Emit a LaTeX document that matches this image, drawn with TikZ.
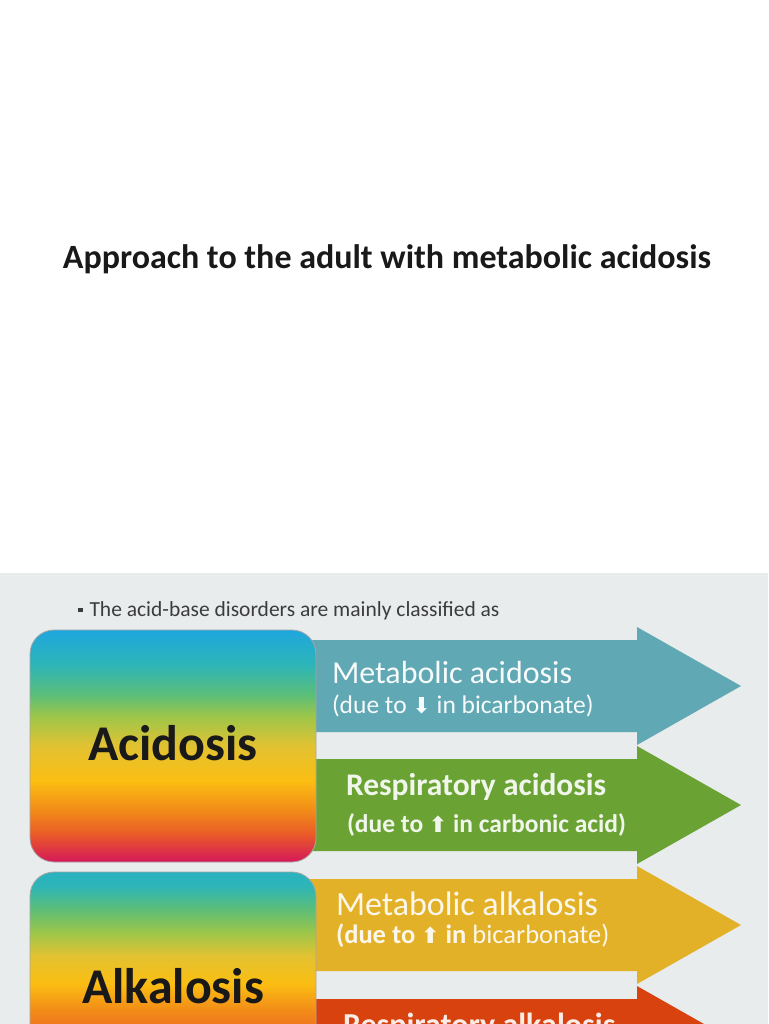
\documentclass[tikz,border=0pt]{standalone}
\usepackage{fontspec}
\setmainfont{Carlito}
\newfontfamily\symfont{DejaVu Sans}

\definecolor{panelgray}{HTML}{E8ECEC}
\definecolor{bullettext}{HTML}{3C3C3C}
\definecolor{arrteal}{HTML}{5FA8B4}
\definecolor{arrgreen}{HTML}{6AA334}
\definecolor{arrgold}{HTML}{E3B128}
\definecolor{arrred}{HTML}{D8420E}
\definecolor{boxblue}{HTML}{1FA6DE}
\definecolor{boxteal}{HTML}{2DB5B8}
\definecolor{boxgreen}{HTML}{5CBE78}
\definecolor{boxlime}{HTML}{9CC64A}
\definecolor{boxyellow}{HTML}{E2C232}
\definecolor{boxgold}{HTML}{FBBE12}
\definecolor{boxorange}{HTML}{F28A18}
\definecolor{boxred}{HTML}{E95A28}
\definecolor{boxcrimson}{HTML}{D5185A}

\pgfdeclareverticalshading{acidshade}{100bp}{color(0bp)=(boxcrimson); color(25bp)=(boxcrimson);
  color(31bp)=(boxred); color(36bp)=(boxorange); color(42.5bp)=(boxgold); color(50bp)=(boxyellow);
  color(56.5bp)=(boxlime); color(61bp)=(boxgreen); color(67.5bp)=(boxteal); color(75bp)=(boxblue);
  color(100bp)=(boxblue)}
\pgfdeclareverticalshading{alkashade}{100bp}{color(0bp)=(boxcrimson); color(25bp)=(boxcrimson);
  color(37bp)=(boxred); color(45bp)=(boxorange); color(51bp)=(boxgold); color(57bp)=(boxyellow);
  color(62bp)=(boxlime); color(67bp)=(boxgreen); color(72bp)=(boxteal); color(75bp)=(boxteal!80!boxblue);
  color(100bp)=(boxteal!80!boxblue)}

\newcommand{\fs}[1]{\fontsize{#1}{#1}\selectfont}

\begin{document}
\begin{tikzpicture}[
      x=1pt, y=-1pt,
      every node/.style={inner sep=0pt, outer sep=0pt},
      titletext/.style={font=\bfseries\fs{34}, text=black!90},
      bullettxt/.style={anchor=base west, font=\fs{21.5}, text=bullettext},
      groupbox/.style={draw=black!35, line width=0.8pt, rounded corners=24pt,
        minimum width=286pt, minimum height=232pt,
        font=\bfseries\fs{50}, text=black!90},
      mainline/.style={anchor=base west, font=\fs{32}},
      subline/.style={anchor=base west, font=\fs{25.5}}
    ]
      \useasboundingbox (0,0) rectangle (768,1024);
      \clip (0,0) rectangle (768,1024);
      \fill[white] (0,0) rectangle (768,573);
      \fill[panelgray] (0,573) rectangle (768,1024);

      \node[titletext] (title) at (387,259) {Approach to the adult with metabolic acidosis};

      \node[bullettxt] (intro) at (78,616) {\raisebox{4pt}{\rule{4.5pt}{4.5pt}}\hspace{7pt}The acid-base disorders are mainly classified as};

      % the four fat arrows
      \foreach \cy/\col in {686/arrteal, 805/arrgreen, 925/arrgold, 1045/arrred}
        \fill[\col] (300,\cy-46) -- (637,\cy-46) -- (637,\cy-59) -- (741,\cy)
          -- (637,\cy+59) -- (637,\cy+46) -- (300,\cy+46) -- cycle;

      \node[groupbox, shading=acidshade] (acid) at (173,746) {\raisebox{6pt}{Acidosis}};
      \node[groupbox, shading=alkashade] (alka) at (173,988) {\raisebox{4pt}{Alkalosis}};

      \node[mainline, text=white!95!arrteal] (metacid) at (332,683) {Metabolic acidosis};
      \node[subline, text=white!95!arrteal] (metacidwhy) at (332,713) {(due to {\symfont\fs{22}⬇} in bicarbonate)};

      \node[mainline, text=white!90!arrgreen, font=\bfseries\fs{31.5}] (resacid) at (346,795) {Respiratory acidosis};
      \node[subline, text=white!90!arrgreen, font=\bfseries\fs{25.5}] (resacidwhy) at (347,832) {(due to {\symfont\fs{22}⬆} in carbonic acid)};

      \node[mainline, text=white!90!arrgold, font=\fs{34}] (metalk) at (336,915) {Metabolic alkalosis};
      \node[subline, text=white!90!arrgold, font=\fs{26.5}] (metalkwhy) at (336,943) {\textbf{(due to {\symfont\fs{22}⬆} in} bicarbonate)};

      \node[mainline, text=white!90!arrred, font=\bfseries\fs{32}] (resalk) at (343,1035) {Respiratory alkalosis};
    \end{tikzpicture}
\end{document}
